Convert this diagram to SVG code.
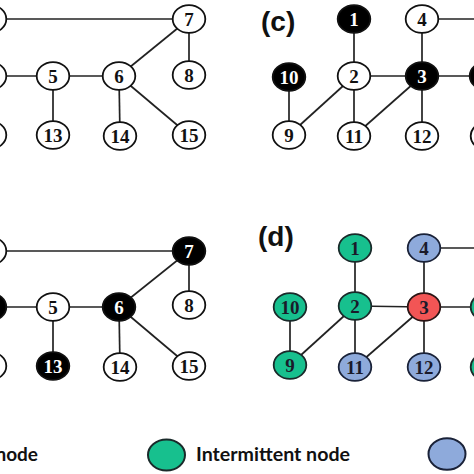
<svg xmlns="http://www.w3.org/2000/svg" width="474" height="474" viewBox="0 0 474 474">
<style>
.n ellipse{stroke:#111;stroke-width:1.8}
.w ellipse{fill:#fff}
.k ellipse{fill:#000}
.g ellipse{fill:#17c08e;stroke:#1a2a2a}
.b ellipse{fill:#8eaadb;stroke:#1a2238}
.r ellipse{fill:#f25555;stroke:#2a1515}
.n text{font-family:"Liberation Serif","Times New Roman",serif;font-weight:bold;font-size:19px;text-anchor:middle;fill:#111}
.k text{fill:#fff}
.g text,.b text,.r text{fill:#1a1a2a}
#edges line{stroke:#222;stroke-width:1.7}
.lbl{font-family:"Liberation Sans",Arial,sans-serif;font-weight:bold;font-size:28px;fill:#111}
.leg{font-family:Lato,"Open Sans",sans-serif;font-weight:bold;font-size:19px;fill:#111}
</style>
<rect width="474" height="474" fill="#fff"/>
<g id="edges">
<line x1="-10" y1="19" x2="189" y2="19"/>
<line x1="-10" y1="76" x2="53" y2="76"/>
<line x1="53" y1="76" x2="119" y2="76"/>
<line x1="119" y1="76" x2="189" y2="19"/>
<line x1="189" y1="19" x2="189" y2="75"/>
<line x1="53" y1="76" x2="53" y2="135"/>
<line x1="119" y1="76" x2="120" y2="136"/>
<line x1="119" y1="76" x2="189" y2="135"/>
<line x1="422" y1="19" x2="474" y2="19"/>
<line x1="354" y1="19" x2="354" y2="76"/>
<line x1="422" y1="19" x2="422" y2="76"/>
<line x1="354" y1="76" x2="422" y2="76"/>
<line x1="422" y1="76" x2="486" y2="76"/>
<line x1="289" y1="77" x2="289" y2="135"/>
<line x1="354" y1="76" x2="289" y2="135"/>
<line x1="354" y1="76" x2="354" y2="136"/>
<line x1="422" y1="76" x2="354" y2="136"/>
<line x1="422" y1="76" x2="422" y2="136"/>
<line x1="-10" y1="251" x2="189" y2="251"/>
<line x1="-10" y1="307" x2="53" y2="307"/>
<line x1="53" y1="307" x2="119" y2="307"/>
<line x1="119" y1="307" x2="189" y2="251"/>
<line x1="189" y1="251" x2="189" y2="305"/>
<line x1="53" y1="307" x2="53" y2="366"/>
<line x1="119" y1="307" x2="120" y2="367"/>
<line x1="119" y1="307" x2="189" y2="366"/>
<line x1="424" y1="248" x2="474" y2="248"/>
<line x1="355" y1="248" x2="355" y2="306"/>
<line x1="424" y1="248" x2="424" y2="307"/>
<line x1="355" y1="306" x2="424" y2="307"/>
<line x1="424" y1="307" x2="487" y2="307"/>
<line x1="290" y1="307" x2="290" y2="365"/>
<line x1="355" y1="306" x2="290" y2="365"/>
<line x1="355" y1="306" x2="355" y2="367"/>
<line x1="424" y1="307" x2="355" y2="367"/>
<line x1="424" y1="307" x2="424" y2="367"/>
</g>
<g id="a4" class="n w" transform="translate(-10,19)"><ellipse rx="16.3" ry="13.9"/></g>
<g id="a3" class="n w" transform="translate(-10,76)"><ellipse rx="16.3" ry="13.9"/></g>
<g id="a12" class="n w" transform="translate(-10,135)"><ellipse rx="16.3" ry="13.9"/></g>
<g id="a7" class="n w" transform="translate(189,19)"><ellipse rx="16.3" ry="13.9"/><text y="6.8">7</text></g>
<g id="a5" class="n w" transform="translate(53,76)"><ellipse rx="16.3" ry="13.9"/><text y="6.8">5</text></g>
<g id="a6" class="n w" transform="translate(119,76)"><ellipse rx="16.3" ry="13.9"/><text y="6.8">6</text></g>
<g id="a8" class="n w" transform="translate(189,75)"><ellipse rx="16.3" ry="13.9"/><text y="6.8">8</text></g>
<g id="a13" class="n w" transform="translate(53,135)"><ellipse rx="16.3" ry="13.9"/><text y="6.8">13</text></g>
<g id="a14" class="n w" transform="translate(120,136)"><ellipse rx="16.3" ry="13.9"/><text y="6.8">14</text></g>
<g id="a15" class="n w" transform="translate(189,135)"><ellipse rx="16.3" ry="13.9"/><text y="6.8">15</text></g>
<text class="lbl" x="261" y="31">(c)</text>
<g id="c1" class="n k" transform="translate(354,19)"><ellipse rx="16.3" ry="13.9"/><text y="6.8">1</text></g>
<g id="c4" class="n w" transform="translate(422,19)"><ellipse rx="16.3" ry="13.9"/><text y="6.8">4</text></g>
<g id="c10" class="n k" transform="translate(289,77)"><ellipse rx="16.3" ry="13.9"/><text y="6.8">10</text></g>
<g id="c2" class="n w" transform="translate(354,76)"><ellipse rx="16.3" ry="13.9"/><text y="6.8">2</text></g>
<g id="c3" class="n k" transform="translate(422,76)"><ellipse rx="16.3" ry="13.9"/><text y="6.8">3</text></g>
<g id="c5" class="n k" transform="translate(486,76)"><ellipse rx="16.3" ry="13.9"/></g>
<g id="c9" class="n w" transform="translate(289,135)"><ellipse rx="16.3" ry="13.9"/><text y="6.8">9</text></g>
<g id="c11" class="n w" transform="translate(354,136)"><ellipse rx="16.3" ry="13.9"/><text y="6.8">11</text></g>
<g id="c12" class="n w" transform="translate(422,136)"><ellipse rx="16.3" ry="13.9"/><text y="6.8">12</text></g>
<g id="c13" class="n w" transform="translate(487,136)"><ellipse rx="16.3" ry="13.9"/></g>
<g id="b4" class="n w" transform="translate(-10,251)"><ellipse rx="16.3" ry="13.9"/></g>
<g id="b3" class="n k" transform="translate(-10,307)"><ellipse rx="16.3" ry="13.9"/></g>
<g id="b12" class="n w" transform="translate(-10,366)"><ellipse rx="16.3" ry="13.9"/></g>
<g id="b7" class="n k" transform="translate(189,251)"><ellipse rx="16.3" ry="13.9"/><text y="6.8">7</text></g>
<g id="b5" class="n w" transform="translate(53,307)"><ellipse rx="16.3" ry="13.9"/><text y="6.8">5</text></g>
<g id="b6" class="n k" transform="translate(119,307)"><ellipse rx="16.3" ry="13.9"/><text y="6.8">6</text></g>
<g id="b8" class="n w" transform="translate(189,305)"><ellipse rx="16.3" ry="13.9"/><text y="6.8">8</text></g>
<g id="b13" class="n k" transform="translate(53,366)"><ellipse rx="16.3" ry="13.9"/><text y="6.8">13</text></g>
<g id="b14" class="n w" transform="translate(120,367)"><ellipse rx="16.3" ry="13.9"/><text y="6.8">14</text></g>
<g id="b15" class="n w" transform="translate(189,366)"><ellipse rx="16.3" ry="13.9"/><text y="6.8">15</text></g>
<text class="lbl" x="258" y="246">(d)</text>
<g id="d1" class="n g" transform="translate(355,248)"><ellipse rx="16.3" ry="13.9"/><text y="6.8">1</text></g>
<g id="d4" class="n b" transform="translate(424,248)"><ellipse rx="16.3" ry="13.9"/><text y="6.8">4</text></g>
<g id="d10" class="n g" transform="translate(290,307)"><ellipse rx="16.3" ry="13.9"/><text y="6.8">10</text></g>
<g id="d2" class="n g" transform="translate(355,306)"><ellipse rx="16.3" ry="13.9"/><text y="6.8">2</text></g>
<g id="d3" class="n r" transform="translate(424,307)"><ellipse rx="16.3" ry="13.9"/><text y="6.8">3</text></g>
<g id="d5" class="n g" transform="translate(487,307)"><ellipse rx="16.3" ry="13.9"/></g>
<g id="d9" class="n g" transform="translate(290,365)"><ellipse rx="16.3" ry="13.9"/><text y="6.8">9</text></g>
<g id="d11" class="n b" transform="translate(355,367)"><ellipse rx="16.3" ry="13.9"/><text y="6.8">11</text></g>
<g id="d12" class="n b" transform="translate(424,367)"><ellipse rx="16.3" ry="13.9"/><text y="6.8">12</text></g>
<g id="d13" class="n g" transform="translate(487,367)"><ellipse rx="16.3" ry="13.9"/></g>
<g id="legend">
<text class="leg" x="38" y="461" text-anchor="end">node</text>
<ellipse cx="166.5" cy="455" rx="18.5" ry="15.5" fill="#17c08e" stroke="#1a2a2a" stroke-width="2"/>
<text class="leg" x="196" y="461" textLength="154" lengthAdjust="spacingAndGlyphs">Intermittent node</text>
<ellipse cx="447" cy="454" rx="18.5" ry="15.8" fill="#8eaadb" stroke="#1a2238" stroke-width="2"/>
</g>
</svg>
